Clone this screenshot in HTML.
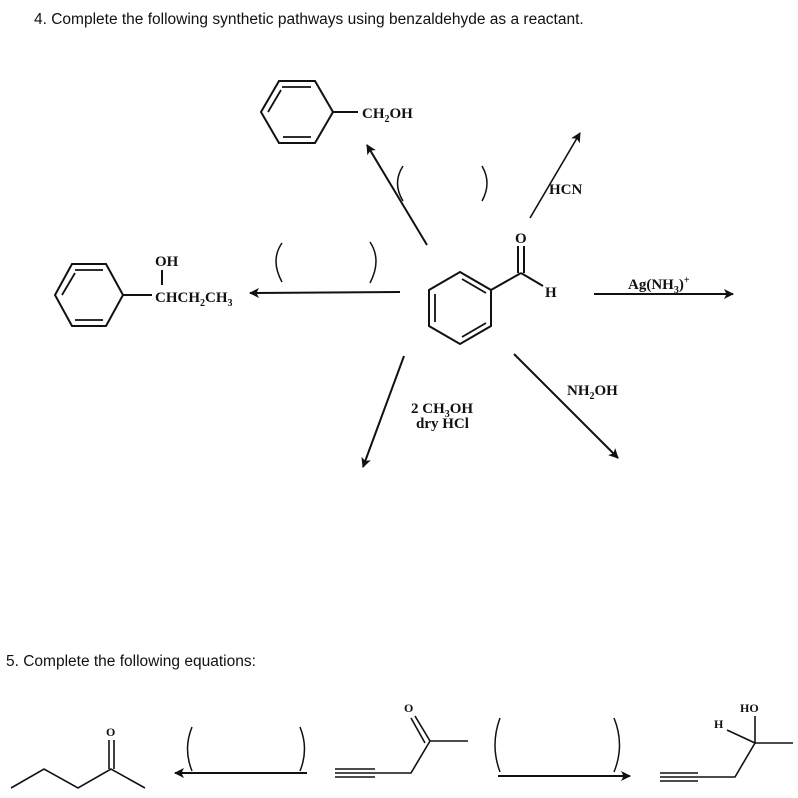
<!DOCTYPE html>
<html><head><style>
body{margin:0;background:#fff;width:798px;height:798px;overflow:hidden}
svg{display:block}
.h{font-family:"Liberation Sans",sans-serif;font-size:15.5px;fill:#111}
.c{font-family:"Liberation Serif",serif;font-weight:bold;font-size:15px;fill:#111}
.s{font-size:10px}
</style></head><body>
<svg width="798" height="798" viewBox="0 0 798 798">
<defs><marker id="a" viewBox="0 0 10 10" refX="9" refY="5" markerWidth="16" markerHeight="10" orient="auto" markerUnits="userSpaceOnUse"><path d="M0,0L10,5L0,10L2.5,5z" fill="#111"/></marker></defs>
<text class="h" x="34" y="24">4. Complete the following synthetic pathways using benzaldehyde as a reactant.</text>
<text class="h" x="6" y="666">5. Complete the following equations:</text>
<g stroke="#111" stroke-width="2" fill="none">
<polygon points="333,112 315,81 279,81 261,112 279,143 315,143"/>
<path d="M311,87L282,87M283,137L311,137M268,112L281,90" stroke-width="1.8"/>
<line x1="333" y1="112" x2="358" y2="112"/>
<polygon points="123,295 106,264 72,264 55,295 72,326 106,326"/>
<path d="M103,270L75,270M75,320L103,320M62,295L75,273" stroke-width="1.8"/>
<line x1="123" y1="295" x2="152" y2="295"/>
<line x1="162" y1="270" x2="162" y2="285"/>
<polygon points="460,272 491,290 491,326 460,344 429,326 429,290"/>
<path d="M435,294L435,322M462,279L486,293M462,337L486,323" stroke-width="1.8"/>
<line x1="491" y1="290" x2="521" y2="273"/>
<path d="M518,273L518,246M524,273L524,246"/>
<line x1="521" y1="273" x2="543" y2="286"/>
<line x1="427" y1="245" x2="367" y2="145" marker-end="url(#a)"/>
<line x1="530" y1="218" x2="580" y2="133" stroke-width="1.6" marker-end="url(#a)"/>
<line x1="400" y1="292" x2="250" y2="293" marker-end="url(#a)"/>
<line x1="594" y1="294" x2="733" y2="294" marker-end="url(#a)"/>
<line x1="404" y1="356" x2="363" y2="467" marker-end="url(#a)"/>
<line x1="514" y1="354" x2="618" y2="458" marker-end="url(#a)"/>
<g stroke-width="1.5">
<path d="M403,166Q392,183 403,201M482,166Q492,183 482,201"/>
<path d="M282,243Q270,260 282,282M370,242Q382,260 370,283"/>
<path d="M192,727Q183,749 192,771M300,727Q309,749 300,771"/>
<path d="M500,718Q490,745 500,772M614,718Q625,745 614,772"/>
</g>
<polyline points="11,788 44,769 78,788 111,769 145,788" stroke-width="1.6"/>
<path d="M109,769L109,740M114,769L114,740" stroke-width="1.6"/>
<line x1="307" y1="773" x2="175" y2="773" marker-end="url(#a)"/>
<path d="M335,769L375,769M335,773L375,773M335,777L375,777" stroke-width="1.5"/>
<polyline points="375,773 411,773 430,741 468,741" stroke-width="1.6"/>
<path d="M430,741L415,716M425,743L411,718" stroke-width="1.6"/>
<line x1="498" y1="776" x2="630" y2="776" marker-end="url(#a)"/>
<path d="M660,773L698,773M660,777L698,777M660,781L698,781" stroke-width="1.5"/>
<polyline points="698,777 735,777 755,743 793,743" stroke-width="1.6"/>
<line x1="727" y1="730" x2="755" y2="743" stroke-width="1.6"/>
<line x1="755" y1="743" x2="755" y2="716" stroke-width="1.6"/>
</g>
<text class="c" x="362" y="118">CH<tspan class="s" dy="4">2</tspan><tspan dy="-4">OH</tspan></text>
<text class="c" x="155" y="266">OH</text>
<text class="c" x="155" y="302">CHCH<tspan class="s" dy="4">2</tspan><tspan dy="-4">CH</tspan><tspan class="s" dy="4">3</tspan></text>
<text class="c" x="515" y="243">O</text>
<text class="c" x="545" y="297">H</text>
<text class="c" x="549" y="194">HCN</text>
<text class="c" x="628" y="289">Ag(NH<tspan class="s" dy="4">3</tspan><tspan dy="-4">)</tspan><tspan class="s" dy="-6">+</tspan></text>
<text class="c" x="567" y="395">NH<tspan class="s" dy="4">2</tspan><tspan dy="-4">OH</tspan></text>
<text class="c" x="411" y="413">2 CH<tspan class="s" dy="4">3</tspan><tspan dy="-4">OH</tspan></text>
<text class="c" x="416" y="428">dry HCl</text>
<text class="c" x="106" y="736" style="font-size:12px">O</text>
<text class="c" x="404" y="712" style="font-size:12px">O</text>
<text class="c" x="714" y="728" style="font-size:12px">H</text>
<text class="c" x="740" y="712" style="font-size:12px">HO</text>
</svg>
</body></html>
